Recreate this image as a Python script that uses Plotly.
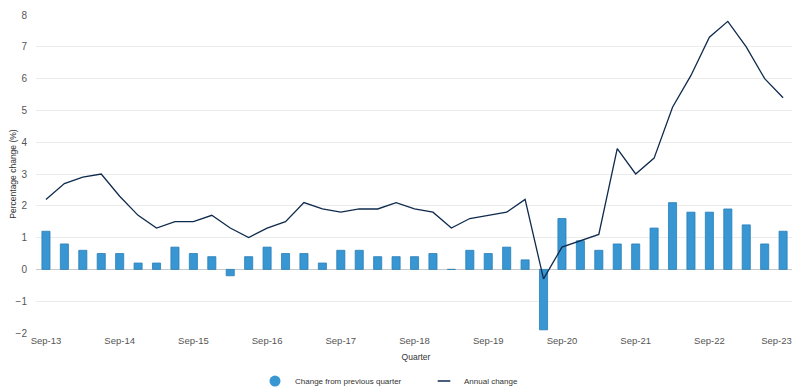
import plotly.graph_objects as go

quarters = ["Sep-13","Dec-13","Mar-14","Jun-14","Sep-14","Dec-14","Mar-15","Jun-15","Sep-15","Dec-15",
            "Mar-16","Jun-16","Sep-16","Dec-16","Mar-17","Jun-17","Sep-17","Dec-17","Mar-18","Jun-18",
            "Sep-18","Dec-18","Mar-19","Jun-19","Sep-19","Dec-19","Mar-20","Jun-20","Sep-20","Dec-20",
            "Mar-21","Jun-21","Sep-21","Dec-21","Mar-22","Jun-22","Sep-22","Dec-22","Mar-23","Jun-23","Sep-23"]
quarterly_change = [1.2,0.8,0.6,0.5,0.5,0.2,0.2,0.7,0.5,0.4,
                    -0.2,0.4,0.7,0.5,0.5,0.2,0.6,0.6,0.4,0.4,
                    0.4,0.5,0.0,0.6,0.5,0.7,0.3,-1.9,1.6,0.9,
                    0.6,0.8,0.8,1.3,2.1,1.8,1.8,1.9,1.4,0.8,1.2]
annual_change = [2.2,2.7,2.9,3.0,2.3,1.7,1.3,1.5,1.5,1.7,
                 1.3,1.0,1.3,1.5,2.1,1.9,1.8,1.9,1.9,2.1,
                 1.9,1.8,1.3,1.6,1.7,1.8,2.2,-0.3,0.7,0.9,
                 1.1,3.8,3.0,3.5,5.1,6.1,7.3,7.8,7.0,6.0,5.4]
tick_labels = ["Sep-13","Sep-14","Sep-15","Sep-16","Sep-17","Sep-18","Sep-19","Sep-20","Sep-21","Sep-22","Sep-23"]

idx = list(range(len(quarters)))
tick_idx = [quarters.index(t) for t in tick_labels]
# pad the last label so it stays inside the visible page edge
tick_text = tick_labels[:-1] + [tick_labels[-1] + "\u00a0" * 5]

BAR = "#3896d3"
LINE = "#0e2a4d"
FONT = "Liberation Sans, Arial, sans-serif"

fig = go.Figure()
fig.add_trace(go.Bar(x=idx, y=quarterly_change, name="Change from previous quarter",
                     marker=dict(color=BAR, line=dict(color="#2a7fb8", width=0.8)),
                     showlegend=False, width=0.44))
fig.add_trace(go.Scatter(x=idx, y=annual_change, mode="lines", name="Annual change",
                         line=dict(color=LINE, width=1.3), showlegend=False))
# legend entries
fig.add_trace(go.Scatter(x=[None], y=[None], mode="markers", name="Change from previous quarter",
                         marker=dict(symbol="circle", size=11, color=BAR), legend="legend"))
fig.add_trace(go.Scatter(x=[None], y=[None], mode="markers", name="Annual change",
                         marker=dict(symbol="line-ew", size=9, line=dict(color=LINE, width=1.5)),
                         legend="legend2"))

# page body has an 8px default margin, so the figure is offset by (8, 8)
fig.update_layout(
    width=800, height=392,
    margin=dict(l=28, r=12, t=7, b=67, autoexpand=False),
    paper_bgcolor="white", plot_bgcolor="white",
    font=dict(family=FONT, size=9.5, color="#555555"),
    legend=dict(orientation="h", x=(255 - 36) / 760, xanchor="left", y=-0.151, yanchor="middle",
                font=dict(size=8, color="#333333"), itemwidth=30, bgcolor="rgba(0,0,0,0)"),
    legend2=dict(orientation="h", x=(424 - 36) / 760, xanchor="left", y=-0.151, yanchor="middle",
                 font=dict(size=8, color="#333333"), itemwidth=30, bgcolor="rgba(0,0,0,0)"),
    xaxis=dict(range=[-0.54, 40.7], tickmode="array", tickvals=tick_idx, ticktext=tick_text,
               showgrid=False, zeroline=False, showline=False, ticks="", automargin=False,
               ticklabeloverflow="allow",
               tickfont=dict(size=9.5, color="#555555"),
               title=dict(text="Quarter", font=dict(size=8.5, color="#333333"), standoff=9)),
    yaxis=dict(range=[-2, 8], dtick=1, showgrid=True, gridcolor="#ececec", gridwidth=1,
               zeroline=True, zerolinecolor="#c8c8c8", zerolinewidth=1.2, showline=False,
               ticks="outside", ticklen=6, tickcolor="rgba(0,0,0,0)", automargin=False,
               tickfont=dict(size=10, color="#555555"),
               title=dict(text="Percentage change (%)", font=dict(size=8.5, color="#333333"), standoff=0)),
)

fig.write_html("out.html")
